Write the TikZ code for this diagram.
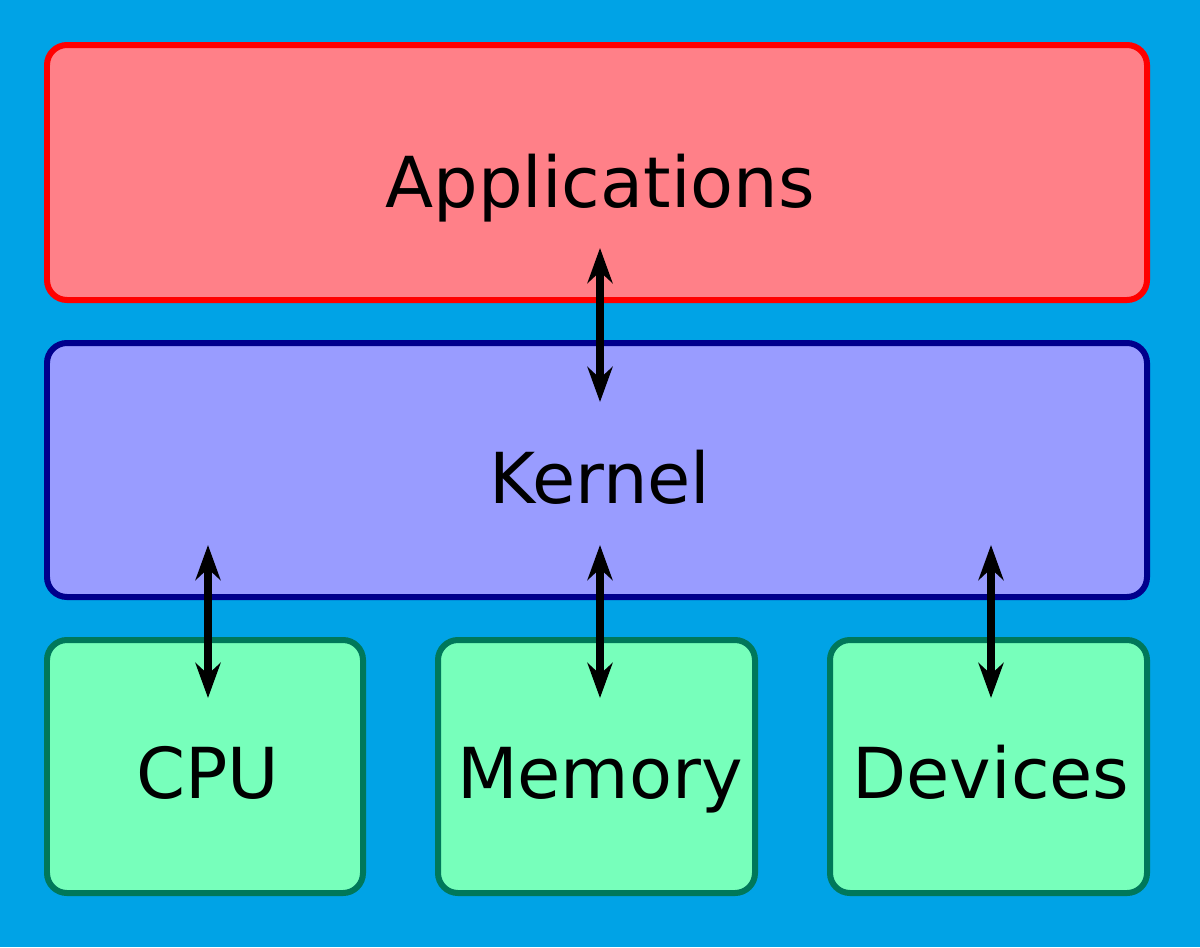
\documentclass[tikz,border=0pt]{standalone}
\usepackage{fontspec}
\setmainfont{DejaVu Sans}
\usetikzlibrary{arrows.meta}
\definecolor{bg}{RGB}{0,163,230}
\definecolor{appfill}{RGB}{255,128,136}
\definecolor{kernfill}{RGB}{153,156,255}
\definecolor{kernline}{RGB}{0,0,140}
\definecolor{hwfill}{RGB}{119,255,187}
\definecolor{hwline}{RGB}{0,120,90}
\begin{document}
\begin{tikzpicture}[x=0.02cm,y=-0.02cm,
  box/.style={rounded corners=0.4cm,line width=0.12cm},
  lbl/.style={font=\fontsize{40}{40}\selectfont,anchor=base},
  link/.style={line width=0.15cm,{Stealth[length=0.7cm,width=0.5cm]}-{Stealth[length=0.7cm,width=0.5cm]}}]
  \fill[bg] (0,0) rectangle (1200,947);
  \draw[box,fill=appfill,draw=red] (47,45) rectangle (1147,300);
  \draw[box,fill=kernfill,draw=kernline] (47,343) rectangle (1147,597);
  \draw[box,fill=hwfill,draw=hwline] (47,640) rectangle (363,893);
  \draw[box,fill=hwfill,draw=hwline] (438,640) rectangle (755,893);
  \draw[box,fill=hwfill,draw=hwline] (830,640) rectangle (1147,893);
  \node[lbl] (app) at (600,207) {Applications};
  \node[lbl] (kern) at (600,503) {Kernel};
  \node[lbl] (cpu) at (208,798) {CPU};
  \node[lbl] (mem) at (600,798) {Memory};
  \node[lbl] (dev) at (991,798) {Devices};
  \coordinate (a1) at (600,248); \coordinate (k1) at (600,402);
  \coordinate (k2) at (208,545); \coordinate (c1) at (208,698);
  \coordinate (k3) at (600,545); \coordinate (m1) at (600,698);
  \coordinate (k4) at (991,545); \coordinate (d1) at (991,698);
  \draw[link] (a1) -- (k1);
  \draw[link] (k2) -- (c1);
  \draw[link] (k3) -- (m1);
  \draw[link] (k4) -- (d1);
\end{tikzpicture}
\end{document}
